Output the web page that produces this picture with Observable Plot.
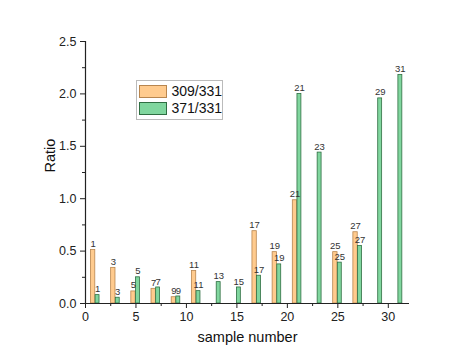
<!DOCTYPE html>
<html>
<head>
<meta charset="utf-8">
<script src="https://cdn.jsdelivr.net/npm/d3@7"></script>
<script src="https://cdn.jsdelivr.net/npm/@observablehq/plot@0.6"></script>
<style>
  html, body { margin: 0; padding: 0; background: #fff; }
  #wrap { position: relative; width: 474px; height: 363px; font-family: "Liberation Sans", Arial, sans-serif; }
  #legend { position: absolute; left: 136px; top: 80px; width: 87px; border: 1px solid #bbb; background: #fff; padding: 1px 0 2px 2px; box-sizing: border-box; }
  .item { display: flex; align-items: center; height: 16px; margin: 1px 0; }
  .sw { width: 29px; height: 13px; box-sizing: border-box; margin-right: 4px; }
  .lab { font-size: 14px; color: #111; }
</style>
</head>
<body>
<div id="wrap"></div>
<script>
const samples309 = [1, 3, 5, 7, 9, 11, 17, 19, 21, 25, 27];
const values309  = [0.51, 0.34, 0.115, 0.14, 0.06, 0.31, 0.69, 0.49, 0.985, 0.49, 0.68];
const samples371 = [1, 3, 5, 7, 9, 11, 13, 15, 17, 19, 21, 23, 25, 27, 29, 31];
const values371  = [0.08, 0.055, 0.25, 0.153, 0.067, 0.118, 0.204, 0.153, 0.265, 0.373, 2.0, 1.44, 0.39, 0.548, 1.957, 2.18];
const seriesNames = ["309/331", "371/331"];
const xMajorTicks = [0, 5, 10, 15, 20, 25, 30];
const xMinorTicks = [2.5, 7.5, 12.5, 17.5, 22.5, 27.5];
const yMajorTicks = [0, 0.5, 1.0, 1.5, 2.0, 2.5];
const yMinorTicks = [0.25, 0.75, 1.25, 1.75, 2.25];

const colors = {
  "309/331": {fill: "#FFCB8E", stroke: "#B8864F"},
  "371/331": {fill: "#80D69E", stroke: "#2F6E42"}
};

const d309 = samples309.map((s, i) => ({s, v: values309[i], x1: s - 0.46, x2: s - 0.03}));
const d371 = samples371.map((s, i) => ({s, v: values371[i], x1: s + 0.0, x2: s + 0.39}));

const font = "Liberation Sans, Arial, sans-serif";

const chart = Plot.plot({
  width: 474,
  height: 363,
  marginLeft: 85,
  marginRight: 65,
  marginTop: 41,
  marginBottom: 60,
  style: {fontFamily: font, fontSize: "12px", color: "#222", background: "#fff"},
  x: {domain: [0, 32.1]},
  y: {domain: [0, 2.5]},
  marks: [
    Plot.rectY(d309, {x1: "x1", x2: "x2", y: "v", fill: colors["309/331"].fill, stroke: colors["309/331"].stroke, strokeWidth: 0.8}),
    Plot.rectY(d371, {x1: "x1", x2: "x2", y: "v", fill: colors["371/331"].fill, stroke: colors["371/331"].stroke, strokeWidth: 0.8}),
    Plot.text(d309, {x: d => (d.x1 + d.x2) / 2, y: "v", text: d => String(d.s), dy: -6, fontSize: 9.5, fill: "#333"}),
    Plot.text(d371, {x: d => (d.x1 + d.x2) / 2, y: "v", text: d => String(d.s), dy: -6, fontSize: 9.5, fill: "#333"}),
    Plot.axisX({ticks: xMajorTicks, tickSize: 5, tickPadding: 4, fontSize: 12.5, label: null, tickFormat: d => String(d), stroke: "#222"}),
    Plot.axisX({ticks: xMinorTicks, tickSize: 3, text: null, label: null, stroke: "#222"}),
    Plot.axisY({ticks: yMajorTicks, tickSize: 5, tickPadding: 4, fontSize: 12.5, label: null, tickFormat: d3.format(".1f"), stroke: "#222"}),
    Plot.axisY({ticks: yMinorTicks, tickSize: 3, text: null, label: null, stroke: "#222"}),
    Plot.ruleY([0], {stroke: "#222", strokeWidth: 1.2}),
    Plot.ruleX([0], {stroke: "#222", strokeWidth: 1.2}),
    Plot.text(["sample number"], {frameAnchor: "bottom", dy: 38, fontSize: 14.5, fill: "#111"}),
    Plot.text(["Ratio"], {frameAnchor: "left", dx: -35, rotate: -90, fontSize: 14.5, fill: "#111"})
  ]
});

const wrap = document.getElementById("wrap");
wrap.appendChild(chart);

const legend = document.createElement("div");
legend.id = "legend";
seriesNames.forEach(name => {
  const item = document.createElement("div");
  item.className = "item";
  const sw = document.createElement("div");
  sw.className = "sw";
  sw.style.background = colors[name].fill;
  sw.style.border = "1px solid " + colors[name].stroke;
  const lab = document.createElement("span");
  lab.className = "lab";
  lab.textContent = name;
  item.appendChild(sw);
  item.appendChild(lab);
  legend.appendChild(item);
});
wrap.appendChild(legend);
</script>
</body>
</html>
